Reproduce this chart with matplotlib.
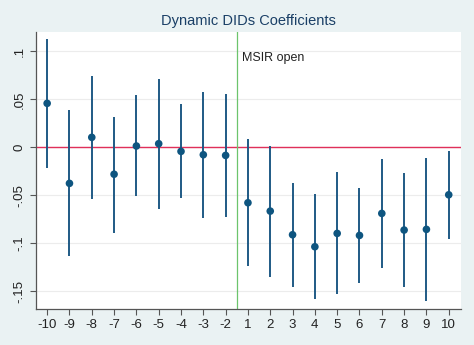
import matplotlib
matplotlib.use("Agg")
import matplotlib.pyplot as plt
import numpy as np

plt.rcParams['font.family'] = ['Liberation Sans', 'DejaVu Sans']

periods = ["-10", "-9", "-8", "-7", "-6", "-5", "-4", "-3", "-2",
           "1", "2", "3", "4", "5", "6", "7", "8", "9", "10"]
coef = [0.0458, -0.0375, 0.0104, -0.028, 0.0014, 0.0038, -0.0042, -0.0077, -0.0084,
        -0.0577, -0.0664, -0.091, -0.1035, -0.0896, -0.0917, -0.0688, -0.0861, -0.0854, -0.0494]
ci_high = [0.1128, 0.0388, 0.074, 0.032, 0.054, 0.0715, 0.0448, 0.058, 0.0555,
           0.0086, 0.0017, -0.0372, -0.049, -0.0254, -0.0424, -0.0122, -0.0268, -0.0108, -0.0035]
ci_low = [-0.0212, -0.113, -0.054, -0.089, -0.051, -0.064, -0.053, -0.074, -0.073,
          -0.1237, -0.1354, -0.145, -0.1577, -0.153, -0.1414, -0.1254, -0.145, -0.160, -0.0958]
yticks = [0.1, 0.05, 0, -0.05, -0.1, -0.15]
ytick_labels = [".1", ".05", "0", "-.05", "-.1", "-.15"]

bg = "#eaf2f3"
navy = "#1f5a85"

fig = plt.figure(figsize=(4.74, 3.45), dpi=100, facecolor=bg)
ax = fig.add_axes([36/474, 1 - 308.7/345, (461-36)/474, (308.7-31.7)/345])
ax.set_facecolor("white")

x = np.arange(len(periods))
ax.vlines(x, ci_low, ci_high, color=navy, lw=1.4, zorder=3)
ax.scatter(x, coef, s=30, color="#0e5580", zorder=4, edgecolors="none")

ax.axhline(0, color="#e0305a", lw=1.0, zorder=2)
ax.axvline(8.5, color="#6cc46c", lw=0.9, zorder=2)
ax.text(8.75, 0.093, "MSIR open", fontsize=9, color="#222222", va="center", ha="left")

ax.set_xlim(-0.5, 18.55)
ax.set_ylim(-0.168, 0.1204)
ax.set_xticks(x)
ax.set_xticklabels(periods, fontsize=9.5, color="#222222")
ax.set_yticks(yticks)
ax.set_yticklabels(ytick_labels, fontsize=9.5, color="#222222", rotation=90, va="center")
ax.yaxis.grid(True, color="#ececec", lw=0.8, zorder=0)
ax.set_axisbelow(True)

for s in ["top", "right"]:
    ax.spines[s].set_visible(False)
for s in ["left", "bottom"]:
    ax.spines[s].set_color("#555555")
    ax.spines[s].set_linewidth(0.9)
ax.tick_params(axis="both", color="#555555", length=4, width=0.8)

fig.text(248/474, 1 - 21/345, "Dynamic DIDs Coefficients", fontsize=10.5,
         color="#1a3f66", ha="center", va="center")

fig.savefig("out.png", dpi=100, facecolor=bg)
